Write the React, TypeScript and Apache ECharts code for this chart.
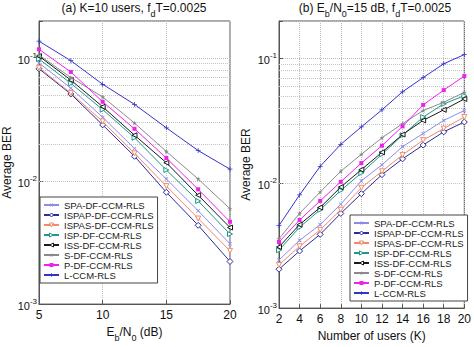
import { useEffect, useRef } from 'react';
import * as echarts from 'echarts';

// ---------- data ----------
const snrDb = [5, 7.5, 10, 12.5, 15, 17.5, 20];
const users = [2, 4, 6, 8, 10, 12, 14, 16, 18, 20];

const seriesNames = [
  'SPA-DF-CCM-RLS',
  'ISPAP-DF-CCM-RLS',
  'ISPAS-DF-CCM-RLS',
  'ISP-DF-CCM-RLS',
  'ISS-DF-CCM-RLS',
  'S-DF-CCM-RLS',
  'P-DF-CCM-RLS',
  'L-CCM-RLS',
];

// (a) BER vs Eb/N0, K = 10
const snrSPA = [0.0913, 0.0569, 0.033, 0.0184, 0.0104, 0.00574, 0.00309];
const snrISPAP = [0.0818, 0.051, 0.0286, 0.0159, 0.00811, 0.00437, 0.00222];
const snrISPAS = [0.0834, 0.0519, 0.0305, 0.0168, 0.0091, 0.00496, 0.00271];
const snrISP = [0.0982, 0.0623, 0.0381, 0.0225, 0.0123, 0.00689, 0.00371];
const snrISS = [0.1037, 0.0662, 0.0402, 0.0236, 0.0141, 0.00768, 0.00419];
const snrS = [0.1056, 0.0695, 0.0483, 0.0296, 0.0174, 0.0104, 0.00595];
const snrP = [0.1178, 0.0771, 0.0441, 0.0266, 0.0154, 0.00857, 0.00467];
const snrL = [0.137, 0.0952, 0.0612, 0.042, 0.0271, 0.0177, 0.0125];

// (b) BER vs number of users, Eb/N0 = 15 dB
const usrSPA = [0.00243, 0.00349, 0.00467, 0.0068, 0.01046, 0.01408, 0.01968, 0.02507, 0.03193, 0.03833];
const usrISPAP = [0.00205, 0.00287, 0.0039, 0.00574, 0.00826, 0.01174, 0.0157, 0.02026, 0.02586, 0.03101];
const usrISPAS = [0.00222, 0.00313, 0.00424, 0.00614, 0.00921, 0.01249, 0.0169, 0.02219, 0.02746, 0.03398];
const usrISP = [0.00291, 0.00445, 0.00614, 0.00877, 0.01211, 0.0171, 0.0243, 0.03398, 0.04329, 0.05035];
const usrISS = [0.00309, 0.00467, 0.0064, 0.00933, 0.01286, 0.01774, 0.02462, 0.03193, 0.03881, 0.04742];
const usrS = [0.00359, 0.00574, 0.00852, 0.01249, 0.0171, 0.02318, 0.03008, 0.03833, 0.04465, 0.05357];
const usrP = [0.00339, 0.00508, 0.00723, 0.01028, 0.01453, 0.02004, 0.02862, 0.04251, 0.05585, 0.07246];
const usrL = [0.00459, 0.00807, 0.01368, 0.02053, 0.02833, 0.03881, 0.05416, 0.07038, 0.0908, 0.1076];

const snrData = [snrSPA, snrISPAP, snrISPAS, snrISP, snrISS, snrS, snrP, snrL];
const usrData = [usrSPA, usrISPAP, usrISPAS, usrISP, usrISS, usrS, usrP, usrL];

// ---------- styles ----------
const FONT = "'Liberation Sans', Arial, Helvetica, sans-serif";
const PLUS = 'path://M4.25,0H5.75V4.25H10V5.75H5.75V10H4.25V5.75H0V4.25H4.25Z';
const STAR = 'path://M5,0L6.2,3.6L10,3.6L6.9,5.8L8.1,9.5L5,7.2L1.9,9.5L3.1,5.8L0,3.6L3.8,3.6Z';

const styles = [
  { color: '#8b8be8', symbol: PLUS, size: 5, rotate: 45, empty: false },
  { color: '#2c2c9c', symbol: 'diamond', size: 6, rotate: 0, empty: true },
  { color: '#f08a6a', symbol: 'triangle', size: 5, rotate: 180, empty: true },
  { color: '#1e9988', symbol: 'triangle', size: 5, rotate: -90, empty: true },
  { color: '#1a1a1a', symbol: 'triangle', size: 5, rotate: 90, empty: true },
  { color: '#8a8a8a', symbol: STAR, size: 5, rotate: 0, empty: false },
  { color: '#ee22ee', symbol: 'rect', size: 4, rotate: 0, empty: false },
  { color: '#3333cc', symbol: PLUS, size: 5, rotate: 0, empty: false },
];

const minorGrid: number[] = [];
for (const dec of [0.001, 0.01]) {
  for (let m = 2; m <= 9; m++) minorGrid.push(+(m * dec).toPrecision(3));
}

const richSub = {
  n: { fontSize: 12, lineHeight: 14, verticalAlign: 'top', fontFamily: FONT, fontWeight: 'normal', color: '#111' },
  s: { fontSize: 9, lineHeight: 9, padding: [7, 0, 0, 0], verticalAlign: 'top', fontFamily: FONT, fontWeight: 'normal', color: '#111' },
};

const yLabelRich = {
  b: { fontSize: 11, lineHeight: 14, verticalAlign: 'bottom', fontFamily: FONT, color: '#111' },
  e: { fontSize: 8, lineHeight: 8, verticalAlign: 'top', fontFamily: FONT, color: '#111' },
};

function yFormatter(v: number) {
  const l = Math.log10(v);
  const r = Math.round(l);
  if (Math.abs(l - r) > 1e-6) return '';
  return '{b|10}{e|' + r + '}';
}

function makeAxes(idx: number) {
  const isA = idx === 0;
  const axisColor = '#555';
  const x = {
    type: 'value',
    gridIndex: idx,
    min: isA ? 5 : 2,
    max: 20,
    interval: isA ? 5 : 2,
    name: isA ? '{n|E}{s|b}{n|/N}{s|0}{n| (dB)}' : '{n|Number of users (K)}',
    nameLocation: 'middle',
    nameGap: 16,
    nameTextStyle: { rich: richSub, fontFamily: FONT, fontSize: 12 },
    axisLine: { show: true, lineStyle: { color: axisColor, width: 1 } },
    axisTick: { show: true, inside: true, length: 4, lineStyle: { color: axisColor } },
    axisLabel: { fontSize: 12, color: '#111', margin: 5, fontFamily: FONT },
    splitLine: { show: true, lineStyle: { type: 'dotted', color: '#bdbdbd', width: 1 } },
  };
  const y = {
    type: 'log',
    logBase: 10,
    gridIndex: idx,
    min: 0.001,
    max: 0.2,
    name: 'Average BER',
    nameLocation: 'middle',
    nameGap: isA ? 26 : 27,
    nameTextStyle: { fontSize: 12, color: '#111', fontFamily: FONT },
    axisLine: { show: true, lineStyle: { color: axisColor, width: 1 } },
    axisTick: { show: true, inside: true, length: 4, lineStyle: { color: axisColor } },
    axisLabel: { formatter: yFormatter, rich: yLabelRich, margin: 2, fontFamily: FONT },
    splitLine: { show: true, lineStyle: { type: 'dotted', color: '#bdbdbd', width: 1 } },
  };
  return { x, y };
}

function makeSeries(idx: number) {
  const xs = idx === 0 ? snrDb : users;
  const ys = idx === 0 ? snrData : usrData;
  return seriesNames.map((name, i) => {
    const st = styles[i];
    const s: any = {
      name,
      type: 'line',
      xAxisIndex: idx,
      yAxisIndex: idx,
      data: xs.map((x, j) => [x, ys[i][j]]),
      symbol: st.symbol,
      symbolSize: st.size,
      symbolRotate: st.rotate,
      showAllSymbol: true,
      lineStyle: { color: st.color, width: 1 },
      itemStyle: st.empty
        ? { color: '#ffffff', borderColor: st.color, borderWidth: 1 }
        : { color: st.color, borderWidth: 0 },
      emphasis: { disabled: true },
      z: 3 + i,
    };
    if (i === 0) {
      s.markLine = {
        silent: true,
        symbol: 'none',
        label: { show: false },
        lineStyle: { type: 'dotted', color: '#c4c4c4', width: 1 },
        emphasis: { disabled: true },
        data: minorGrid.map((v) => ({ yAxis: v })),
        z: 1,
      };
    }
    return s;
  });
}

function makeLegend(left: number, top: number) {
  return {
    data: seriesNames.map((n, i) =>
      styles[i].empty
        ? { name: n, itemStyle: { color: '#ffffff', borderColor: styles[i].color, borderWidth: 1 } }
        : { name: n }
    ),
    orient: 'vertical',
    left,
    top,
    itemWidth: 15,
    itemHeight: 5,
    itemGap: 0,
    padding: [3, 4, 3, 3],
    backgroundColor: '#fff',
    borderColor: '#444',
    borderWidth: 1,
    borderRadius: 0,
    selectedMode: false,
    textStyle: { fontSize: 9.5, lineHeight: 9.7, color: '#222', fontFamily: FONT },
  };
}

export default function App() {
  const ref = useRef<HTMLDivElement>(null);
  useEffect(() => {
    if (!ref.current) return;
    const chart = echarts.init(ref.current, undefined, { renderer: 'svg' });
    const a = makeAxes(0);
    const b = makeAxes(1);
    chart.setOption({
      animation: false,
      backgroundColor: '#fff',
      textStyle: { fontFamily: FONT },
      title: [
        {
          text: '{n|(a) K=10 users, f}{s|d}{n|T=0.0025}',
          left: 134,
          top: 2,
          textAlign: 'center',
          padding: 0,
          textStyle: { rich: richSub, fontFamily: FONT, fontWeight: 'normal' },
        },
        {
          text: '{n|(b) E}{s|b}{n|/N}{s|0}{n|=15 dB, f}{s|d}{n|T=0.0025}',
          left: 375,
          top: 2,
          textAlign: 'center',
          padding: 0,
          textStyle: { rich: richSub, fontFamily: FONT, fontWeight: 'normal' },
        },
      ],
      grid: [
        { left: 38, top: 21, width: 192, height: 291, show: true, borderColor: '#555', borderWidth: 1, backgroundColor: 'transparent' },
        { left: 279, top: 21, width: 189, height: 291, show: true, borderColor: '#555', borderWidth: 1, backgroundColor: 'transparent' },
      ],
      xAxis: [a.x, b.x],
      yAxis: [a.y, b.y],
      legend: [makeLegend(40, 197), makeLegend(350, 215)],
      series: [...makeSeries(0), ...makeSeries(1)],
    } as any);
    return () => chart.dispose();
  }, []);
  return (
    <div
      ref={ref}
      style={{ position: 'fixed', left: 0, top: 0, width: 474, height: 347, background: '#fff' }}
    />
  );
}
